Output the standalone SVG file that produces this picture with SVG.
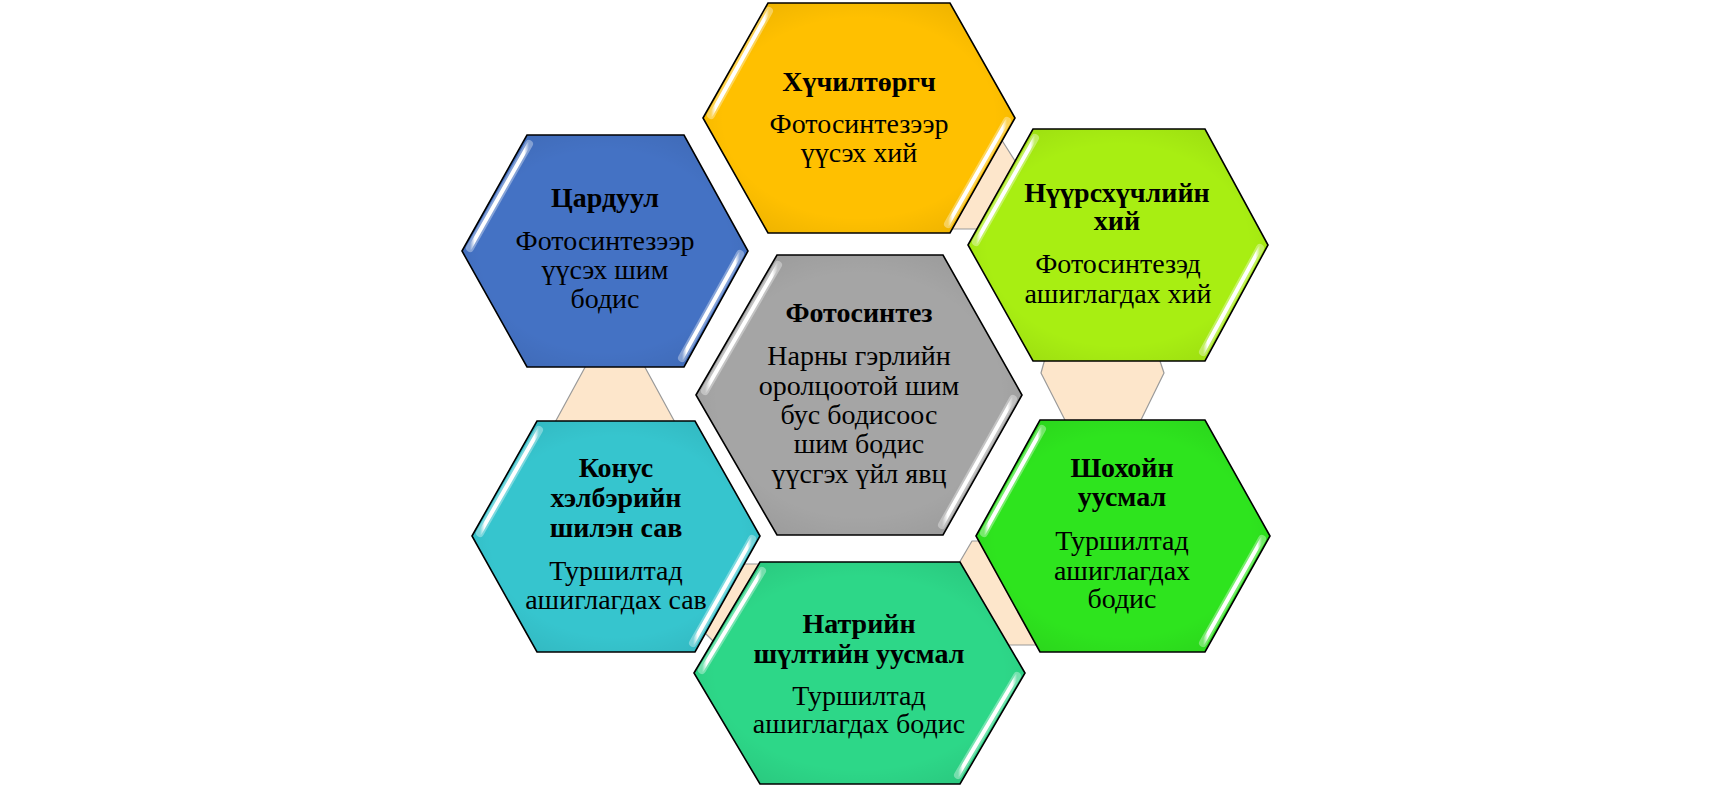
<svg xmlns="http://www.w3.org/2000/svg" width="1725" height="794" viewBox="0 0 1725 794">
<defs>
<linearGradient id="gl" x1="0" y1="0" x2="1" y2="0">
<stop offset="0" stop-color="#fff" stop-opacity="0"/>
<stop offset="0.08" stop-color="#fff" stop-opacity="1"/>
<stop offset="0.92" stop-color="#fff" stop-opacity="1"/>
<stop offset="1" stop-color="#fff" stop-opacity="0"/>
</linearGradient>
<radialGradient id="shade" cx="0.5" cy="0.5" r="0.62">
<stop offset="0.7" stop-color="#000" stop-opacity="0"/>
<stop offset="1" stop-color="#000" stop-opacity="0.08"/>
</radialGradient>
<style>
.hex{stroke:#000;stroke-width:1.6;stroke-linejoin:miter}
.sh{fill:url(#shade);stroke:none}
.conn{fill:#FDE6CB;stroke:#9A9A9A;stroke-width:1.2;stroke-linejoin:round}
.glow{stroke:#fff;stroke-opacity:0.35;stroke-width:8;stroke-linecap:round}
.hl{stroke:url(#gl);stroke-width:4;stroke-linecap:round}
text{font-family:"Liberation Serif","Times New Roman","DejaVu Serif",serif;font-size:28px;fill:#000;text-anchor:middle}
.t{font-weight:bold}
</style>
</defs>
<rect width="1725" height="794" fill="#fff"/>

<g id="connectors">
<polygon class="conn" points="996,131 1022,172 986,229 944,229"/>
<polygon class="conn" points="1046,355 1158,355 1164,373 1138,426 1068,426 1041,373"/>
<polygon class="conn" points="955,570 972,541 990,541 1045,645 1000,645"/>
<polygon class="conn" points="735,564 770,564 722,650 700,628"/>
<polygon class="conn" points="589,360 641,360 677,426 553,426"/>
</g>

<g id="node-oxygen">
<polygon class="hex" fill="#FFC000" points="703,118 768,3 950,3 1015,118 950,233 768,233"/>
<polygon class="sh" points="703,118 768,3 950,3 1015,118 950,233 768,233"/>
<line class="glow" x1="769" y1="11" x2="711" y2="115"/><line class="hl" x1="769" y1="11" x2="711" y2="115"/>
<line class="glow" x1="1007" y1="121" x2="948" y2="224"/><line class="hl" x1="1007" y1="121" x2="948" y2="224"/>
<text class="t" x="859" y="91">Хүчилтөргч</text>
<text x="859" y="133">Фотосинтезээр</text>
<text x="859" y="162">үүсэх хий</text>
</g>

<g id="node-co2">
<polygon class="hex" fill="#A8EE12" points="968,245 1033,129 1205,129 1268,245 1205,361 1033,361"/>
<polygon class="sh" points="968,245 1033,129 1205,129 1268,245 1205,361 1033,361"/>
<line class="glow" x1="1035" y1="138" x2="976" y2="242"/><line class="hl" x1="1035" y1="138" x2="976" y2="242"/>
<line class="glow" x1="1260" y1="248" x2="1203" y2="352"/><line class="hl" x1="1260" y1="248" x2="1203" y2="352"/>
<text class="t" x="1117" y="202">Нүүрсхүчлийн</text>
<text class="t" x="1117" y="230">хий</text>
<text x="1118" y="273">Фотосинтезэд</text>
<text x="1118" y="303">ашиглагдах хий</text>
</g>

<g id="node-starch">
<polygon class="hex" fill="#4472C4" points="462,251 527,135 684,135 748,251 684,367 527,367"/>
<polygon class="sh" points="462,251 527,135 684,135 748,251 684,367 527,367"/>
<line class="glow" x1="529" y1="144" x2="470" y2="248"/><line class="hl" x1="529" y1="144" x2="470" y2="248"/>
<line class="glow" x1="740" y1="254" x2="682" y2="358"/><line class="hl" x1="740" y1="254" x2="682" y2="358"/>
<text class="t" x="605" y="207">Цардуул</text>
<text x="605" y="250">Фотосинтезээр</text>
<text x="605" y="279">үүсэх шим</text>
<text x="605" y="308">бодис</text>
</g>

<g id="node-center">
<polygon class="hex" fill="#A5A5A5" points="696,395 777,255 943,255 1022,395 943,535 777,535"/>
<polygon class="sh" points="696,395 777,255 943,255 1022,395 943,535 777,535"/>
<line class="glow" x1="778" y1="265" x2="705" y2="391"/><line class="hl" x1="778" y1="265" x2="705" y2="391"/>
<line class="glow" x1="1013" y1="399" x2="942" y2="525"/><line class="hl" x1="1013" y1="399" x2="942" y2="525"/>
<text class="t" x="859" y="322">Фотосинтез</text>
<text x="859" y="365">Нарны гэрлийн</text>
<text x="859" y="395">оролцоотой шим</text>
<text x="859" y="424">бус бодисоос</text>
<text x="859" y="453">шим бодис</text>
<text x="859" y="483">үүсгэх үйл явц</text>
</g>

<g id="node-flask">
<polygon class="hex" fill="#36C5CE" points="472,536 537,421 695,421 760,536 695,652 537,652"/>
<polygon class="sh" points="472,536 537,421 695,421 760,536 695,652 537,652"/>
<line class="glow" x1="539" y1="430" x2="480" y2="533"/><line class="hl" x1="539" y1="430" x2="480" y2="533"/>
<line class="glow" x1="752" y1="539" x2="693" y2="643"/><line class="hl" x1="752" y1="539" x2="693" y2="643"/>
<text class="t" x="616" y="477">Конус</text>
<text class="t" x="616" y="507">хэлбэрийн</text>
<text class="t" x="616" y="537">шилэн сав</text>
<text x="616" y="580">Туршилтад</text>
<text x="616" y="609">ашиглагдах сав</text>
</g>

<g id="node-limewater">
<polygon class="hex" fill="#2EE41E" points="976,536 1040,420 1205,420 1270,536 1205,652 1040,652"/>
<polygon class="sh" points="976,536 1040,420 1205,420 1270,536 1205,652 1040,652"/>
<line class="glow" x1="1042" y1="429" x2="984" y2="533"/><line class="hl" x1="1042" y1="429" x2="984" y2="533"/>
<line class="glow" x1="1262" y1="539" x2="1203" y2="643"/><line class="hl" x1="1262" y1="539" x2="1203" y2="643"/>
<text class="t" x="1122" y="477">Шохойн</text>
<text class="t" x="1122" y="506">уусмал</text>
<text x="1122" y="550">Туршилтад</text>
<text x="1122" y="580">ашиглагдах</text>
<text x="1122" y="608">бодис</text>
</g>

<g id="node-naoh">
<polygon class="hex" fill="#2DD788" points="694,673 760,562 960,562 1025,673 960,784 760,784"/>
<polygon class="sh" points="694,673 760,562 960,562 1025,673 960,784 760,784"/>
<line class="glow" x1="762" y1="571" x2="702" y2="670"/><line class="hl" x1="762" y1="571" x2="702" y2="670"/>
<line class="glow" x1="1017" y1="676" x2="958" y2="775"/><line class="hl" x1="1017" y1="676" x2="958" y2="775"/>
<text class="t" x="859" y="633">Натрийн</text>
<text class="t" x="859" y="663">шүлтийн уусмал</text>
<text x="859" y="705">Туршилтад</text>
<text x="859" y="733">ашиглагдах бодис</text>
</g>
</svg>
